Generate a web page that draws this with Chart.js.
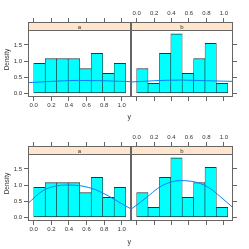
<!DOCTYPE html>
<html lang="en">
<head>
    <meta charset="UTF-8">
    <title>Density histograms</title>
    <script src="https://cdn.jsdelivr.net/npm/chart.js"></script>
    <style>
        body {
            margin: 0;
            background: white;
            width: 249px;
            height: 249px;
            position: relative;
            overflow: hidden;
        }
        canvas {
            position: absolute;
        }
    </style>
</head>
<body>
    <canvas id="topA" width="134" height="124" style="left:0;top:0"></canvas>
    <canvas id="topB" width="121" height="124" style="left:128px;top:0"></canvas>
    <canvas id="botA" width="134" height="125" style="left:0;top:124px"></canvas>
    <canvas id="botB" width="121" height="125" style="left:128px;top:124px"></canvas>

    <script>
        // histogram bins (midpoints) and densities per group
        const binMids = [0.065, 0.196, 0.326, 0.457, 0.588, 0.718, 0.849, 0.979];
        const densityA = [0.93, 1.08, 1.08, 1.08, 0.77, 1.24, 0.62, 0.93];
        const densityB = [0.77, 0.31, 1.24, 1.85, 0.62, 1.08, 1.55, 0.31];
        const groups = ['a', 'b'];

        const xTicks = [0, 0.2, 0.4, 0.6, 0.8, 1.0];
        const yTicks = [0, 0.5, 1.0, 1.5];

        // nearly flat density line in the upper row
        const flatX = [-0.065, 0.2, 0.5, 0.8, 1.105];
        const flatA = [0.33, 0.37, 0.40, 0.39, 0.36];
        const flatB = [0.35, 0.39, 0.41, 0.39, 0.37];

        // fitted curves in the lower row
        const curveAX = [-0.065, 0.1, 0.25, 0.4, 0.55, 0.7, 0.85, 1.0, 1.105];
        const curveA = [0.43, 0.82, 0.97, 1.0, 0.97, 0.86, 0.66, 0.42, 0.26];
        const curveBX = [-0.065, 0.04, 0.15, 0.27, 0.4, 0.5, 0.62, 0.73, 0.84, 0.96, 1.105];
        const curveB = [0.25, 0.46, 0.70, 0.95, 1.1, 1.14, 1.12, 1.05, 0.9, 0.64, 0.3];

        const xMin = -0.065, xMax = 1.105;
        const yMin = -0.115, yMax = 2.214;
        const lineCol = '#666';
        const textCol = '#333';
        const fontFam = '"Liberation Sans", Arial, sans-serif';

        // panel frame + strip with group name
        const panelBox = {
            id: 'panelBox',
            afterDatasetsDraw(chart, args, opts) {
                const { ctx, chartArea: a } = chart;
                const w = a.right - a.left;
                ctx.save();
                ctx.fillStyle = '#ffe5cc';
                ctx.fillRect(a.left, a.top, w, opts.stripHeight);
                ctx.strokeStyle = lineCol;
                ctx.lineWidth = 1;
                ctx.strokeRect(a.left + 0.5, a.top + 0.5, w - 1, a.bottom - a.top - 1);
                ctx.beginPath();
                ctx.moveTo(a.left, a.top + opts.stripHeight + 0.5);
                ctx.lineTo(a.right, a.top + opts.stripHeight + 0.5);
                ctx.stroke();
                ctx.fillStyle = textCol;
                ctx.font = '6px ' + fontFam;
                ctx.textAlign = 'center';
                ctx.textBaseline = 'middle';
                ctx.fillText(opts.label, (a.left + a.right) / 2, a.top + opts.stripHeight / 2 + 1);
                ctx.restore();
            }
        };

        function tickFont() {
            return { size: 6, family: fontFam };
        }

        function makePanel(id, side, dens, lx, ly, label, bottomH) {
            const left = side === 'left';
            const xAxis = (pos, showLabels, height) => ({
                type: 'linear',
                position: pos,
                min: xMin,
                max: xMax,
                offset: false,
                afterBuildTicks: s => { s.ticks = xTicks.map(v => ({ value: v })); },
                afterFit: s => { s.height = height; },
                grid: { offset: false, drawOnChartArea: false, drawTicks: true, tickLength: 4, color: lineCol },
                border: { display: false },
                ticks: {
                    display: showLabels,
                    font: tickFont(),
                    color: textCol,
                    padding: 1,
                    maxRotation: 0,
                    callback: v => v.toFixed(1)
                }
            });

            const xb = xAxis('bottom', left, bottomH);
            if (left) {
                xb.title = {
                    display: true,
                    text: 'y',
                    align: 'end',
                    color: textCol,
                    font: { size: 7, family: fontFam },
                    padding: { top: 0, bottom: 3 }
                };
            }

            return new Chart(document.getElementById(id), {
                type: 'bar',
                data: {
                    datasets: [
                        {
                            type: 'line',
                            data: lx.map((x, i) => ({ x: x, y: ly[i] })),
                            borderColor: '#0080ff',
                            borderWidth: 1,
                            pointRadius: 0,
                            fill: false,
                            cubicInterpolationMode: 'monotone',
                            order: 0
                        },
                        {
                            type: 'bar',
                            data: binMids.map((x, i) => ({ x: x, y: dens[i] })),
                            backgroundColor: '#00ffff',
                            borderColor: '#1e3c3c',
                            borderWidth: { top: 1, bottom: 1, left: 0.6, right: 0.6 },
                            borderSkipped: false,
                            barPercentage: 1,
                            categoryPercentage: 1,
                            order: 1
                        }
                    ]
                },
                options: {
                    responsive: false,
                    animation: false,
                    layout: {
                        autoPadding: false,
                        padding: left ? { left: 0, right: 3, top: 0, bottom: 0 } : { left: 3, right: 0, top: 0, bottom: 0 }
                    },
                    plugins: {
                        legend: { display: false },
                        tooltip: { enabled: false },
                        panelBox: { label: label, stripHeight: 8 }
                    },
                    scales: {
                        x: xb,
                        x2: xAxis('top', !left, 22),
                        y: {
                            type: 'linear',
                            position: side,
                            min: yMin,
                            max: yMax,
                            afterBuildTicks: s => { s.ticks = yTicks.map(v => ({ value: v })); },
                            afterFit: s => { s.width = left ? 28 : 16; },
                            grid: { drawOnChartArea: false, drawTicks: true, tickLength: 4, color: lineCol },
                            border: { display: false },
                            ticks: {
                                display: left,
                                font: tickFont(),
                                color: textCol,
                                padding: 2,
                                callback: v => v.toFixed(1)
                            },
                            title: {
                                display: left,
                                text: 'Density',
                                color: textCol,
                                font: { size: 6.5, family: fontFam },
                                padding: { top: 3, bottom: 0 }
                            }
                        }
                    }
                },
                plugins: [panelBox]
            });
        }

        makePanel('topA', 'left', densityA, flatX, flatA, groups[0], 27);
        makePanel('topB', 'right', densityB, flatX, flatB, groups[1], 27);
        makePanel('botA', 'left', densityA, curveAX, curveA, groups[0], 28);
        makePanel('botB', 'right', densityB, curveBX, curveB, groups[1], 28);
    </script>
</body>
</html>
